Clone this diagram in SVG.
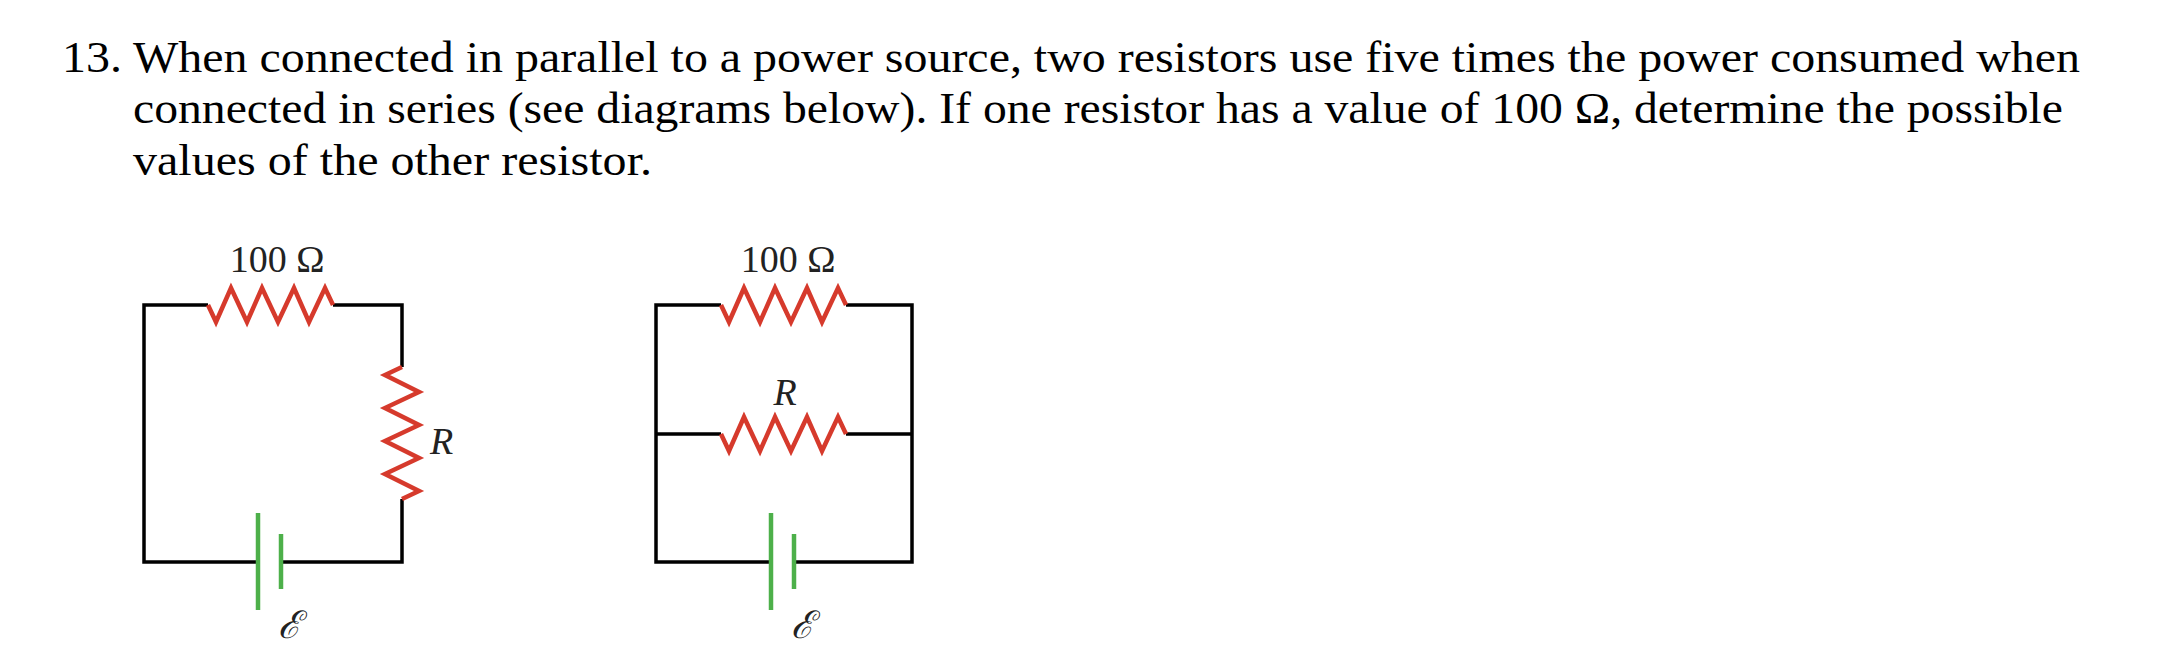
<svg xmlns="http://www.w3.org/2000/svg" width="2174" height="666" viewBox="0 0 2174 666">
<style>
.t{font-family:"Liberation Serif","Times New Roman",serif;font-size:45px;fill:#000}
.l{font-family:"Liberation Serif","Times New Roman",serif;font-size:38px;fill:#222}
.i{font-style:italic}
.w{fill:none;stroke:#000;stroke-width:3.5}
.r{fill:none;stroke:#d63a2c;stroke-width:4.5;stroke-linejoin:miter}
.b{stroke:#4db04a;stroke-width:4.5}
</style>
<rect width="2174" height="666" fill="#fff"/>
<g id="question">
<text class="t" x="62" y="72" textLength="2018" lengthAdjust="spacingAndGlyphs">13. When connected in parallel to a power source, two resistors use five times the power consumed when</text>
<text class="t" x="133" y="123" textLength="1930" lengthAdjust="spacingAndGlyphs">connected in series (see diagrams below). If one resistor has a value of 100 Ω, determine the possible</text>
<text class="t" x="133" y="175" textLength="519" lengthAdjust="spacingAndGlyphs">values of the other resistor.</text>
</g>
<g id="connectors">
<path class="w" d="M208,305 H144 V562 H258 M281,562 H402 V499 M402,367 V305 H333"/>
<path class="w" d="M721,305 H656 V562 H771 M794,562 H912 V305 H846 M656,434 H721 M846,434 H912"/>
</g>
<g id="series-r100">
<polyline class="r" points="208,305 216,322 231,288 247,322 262,288 278,322 294,288 309,322 325,288 333,305"/>
<text class="l" x="277" y="272" text-anchor="middle">100 Ω</text>
</g>
<g id="series-R">
<polyline class="r" points="402,367 385,375 419,392 385,408 419,425 385,441 419,458 385,474 419,491 402,499"/>
<text class="l i" x="430" y="454">R</text>
</g>
<g id="series-battery">
<line class="b" x1="258" y1="513" x2="258" y2="610"/>
<line class="b" x1="281" y1="534" x2="281" y2="589"/>
<text class="l i" x="278" y="638">ℰ</text>
</g>
<g id="parallel-r100">
<polyline class="r" points="721,305 729,322 744,288 760,322 775,288 791,322 807,288 822,322 838,288 846,305"/>
<text class="l" x="788" y="272" text-anchor="middle">100 Ω</text>
</g>
<g id="parallel-R">
<polyline class="r" points="721,434 729,451 744,417 760,451 775,417 791,451 807,417 822,451 838,417 846,434"/>
<text class="l i" x="785" y="405" text-anchor="middle">R</text>
</g>
<g id="parallel-battery">
<line class="b" x1="771" y1="513" x2="771" y2="610"/>
<line class="b" x1="794" y1="534" x2="794" y2="589"/>
<text class="l i" x="791" y="638">ℰ</text>
</g>
</svg>
